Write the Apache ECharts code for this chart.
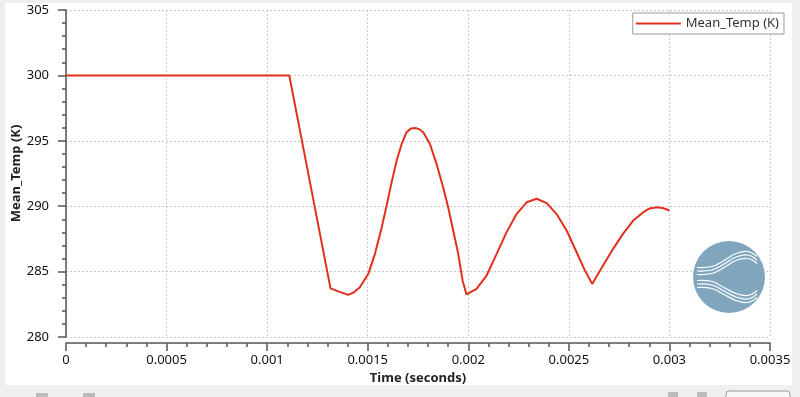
<!DOCTYPE html>
<html>
<head>
<meta charset="utf-8">
<script src="https://cdn.jsdelivr.net/npm/echarts@6/dist/echarts.min.js"></script>
<style>
html,body{margin:0;padding:0;background:#efefef;}
#c{width:800px;height:397px;}
</style>
</head>
<body>
<div id="c"></div>
<script>
var seriesName = 'Mean_Temp (K)';
var timeValues = [0, 0.00111, 0.001315, 0.00136, 0.001403, 0.00143, 0.001461, 0.001503, 0.001536, 0.00157, 0.001594, 0.001619, 0.001644, 0.001669, 0.001693, 0.001715, 0.00174, 0.00176, 0.001776, 0.001809, 0.001842, 0.001875, 0.0019, 0.001925, 0.00195, 0.001972, 0.001991, 0.002041, 0.002091, 0.002141, 0.00219, 0.00224, 0.00229, 0.00234, 0.00239, 0.002439, 0.002489, 0.002538, 0.00258, 0.002616, 0.00267, 0.00272, 0.00277, 0.00282, 0.00287, 0.0029, 0.00294, 0.00297, 0.003];
var tempValues = [300, 300, 283.72, 283.45, 283.22, 283.4, 283.8, 284.83, 286.36, 288.4, 290.05, 291.84, 293.5, 294.77, 295.66, 295.95, 295.97, 295.85, 295.66, 294.77, 293.24, 291.45, 289.92, 288.14, 286.36, 284.3, 283.25, 283.68, 284.7, 286.36, 288.0, 289.4, 290.3, 290.57, 290.23, 289.4, 288.14, 286.5, 285.08, 284.06, 285.46, 286.74, 287.9, 288.9, 289.54, 289.82, 289.92, 289.85, 289.67];
var xTicks = {min: 0, max: 0.0035, interval: 0.0005};
var yTicks = {min: 280, max: 305, interval: 5};

var data = timeValues.map(function(t, i){ return [t, tempValues[i]]; });
var chart = echarts.init(document.getElementById('c'));
var font = 'Noto Sans';
var axisCommon = {
  axisLine: {show: true, lineStyle: {color: '#555', width: 1.5}},
  axisTick: {show: true, length: 8, lineStyle: {color: '#555', width: 1.5}},
  minorTick: {show: true, splitNumber: 5, length: 4, lineStyle: {color: '#555', width: 1.5}},
  splitLine: {show: true, lineStyle: {color: '#c8c8c8', type: [2, 2], width: 1}},
  axisLabel: {color: '#111', fontFamily: font, fontSize: 13},
  nameTextStyle: {color: '#222', fontFamily: font, fontSize: 13, fontWeight: 'bold'},
  nameLocation: 'middle',
  nameMoveOverlap: false
};
var waveLine = function(pts, dy){
  return {type: 'polyline', z: 20, shape: {points: pts.map(function(p){ return [p[0], p[1] + dy]; }), smooth: 0.4},
    style: {stroke: '#ffffff', lineWidth: 1.2, fill: 'none'}};
};
var topWave = [[697, 271], [712, 270], [724, 264], [736, 257], [748, 255], [757, 260]];
var botWave = [[697, 284], [712, 285], [724, 291], [736, 297], [748, 299], [757, 294]];
chart.setOption({
  animation: false,
  backgroundColor: '#efefef',
  graphic: [
    {type: 'rect', z: -10, shape: {x: 5, y: 3, width: 787, height: 382}, style: {fill: '#ffffff'}},
    {type: 'circle', z: 10, shape: {cx: 729, cy: 277, r: 36}, style: {fill: '#80a6be'}},
    waveLine(topWave, -3.5), waveLine(topWave, 0), waveLine(topWave, 3.5),
    waveLine(botWave, -3.5), waveLine(botWave, 0), waveLine(botWave, 3.5),
    {type: 'rect', shape: {x: 726, y: 391, width: 64, height: 12, r: 3}, style: {fill: '#f7f7f7', stroke: '#999'}},
    {type: 'rect', shape: {x: 668, y: 392, width: 10, height: 10}, style: {fill: '#bbb'}},
    {type: 'rect', shape: {x: 697, y: 392, width: 10, height: 10}, style: {fill: '#bbb'}},
    {type: 'rect', shape: {x: 36, y: 393, width: 12, height: 10}, style: {fill: '#bbb'}},
    {type: 'rect', shape: {x: 83, y: 393, width: 12, height: 10}, style: {fill: '#bbb'}}
  ],
  grid: {left: 66, right: 30, top: 10, bottom: 60, containLabel: false, outerBoundsMode: 'none'},
  legend: {
    right: 16, top: 13,
    data: [seriesName],
    backgroundColor: '#fff',
    borderColor: '#999', borderWidth: 1, borderRadius: 0,
    padding: [4, 5, 4, 3],
    itemWidth: 45, itemHeight: 2, icon: 'rect', itemGap: 4,
    textStyle: {color: '#333', fontFamily: font, fontSize: 13}
  },
  xAxis: Object.assign({}, axisCommon, {
    type: 'value', min: xTicks.min, max: xTicks.max, interval: xTicks.interval,
    offset: 6, name: 'Time (seconds)', nameGap: 29,
    axisLabel: Object.assign({}, axisCommon.axisLabel, {margin: 11, showMaxLabel: true, showMinLabel: true})
  }),
  yAxis: Object.assign({}, axisCommon, {
    type: 'value', min: yTicks.min, max: yTicks.max, interval: yTicks.interval,
    offset: 6, name: seriesName, nameGap: 37,
    axisLabel: Object.assign({}, axisCommon.axisLabel, {margin: 11})
  }),
  series: [{
    name: seriesName, type: 'line', data: data, showSymbol: false, smooth: false,
    lineStyle: {color: '#e2301c', width: 2}, itemStyle: {color: '#e2301c'}
  }]
});
</script>
</body>
</html>
